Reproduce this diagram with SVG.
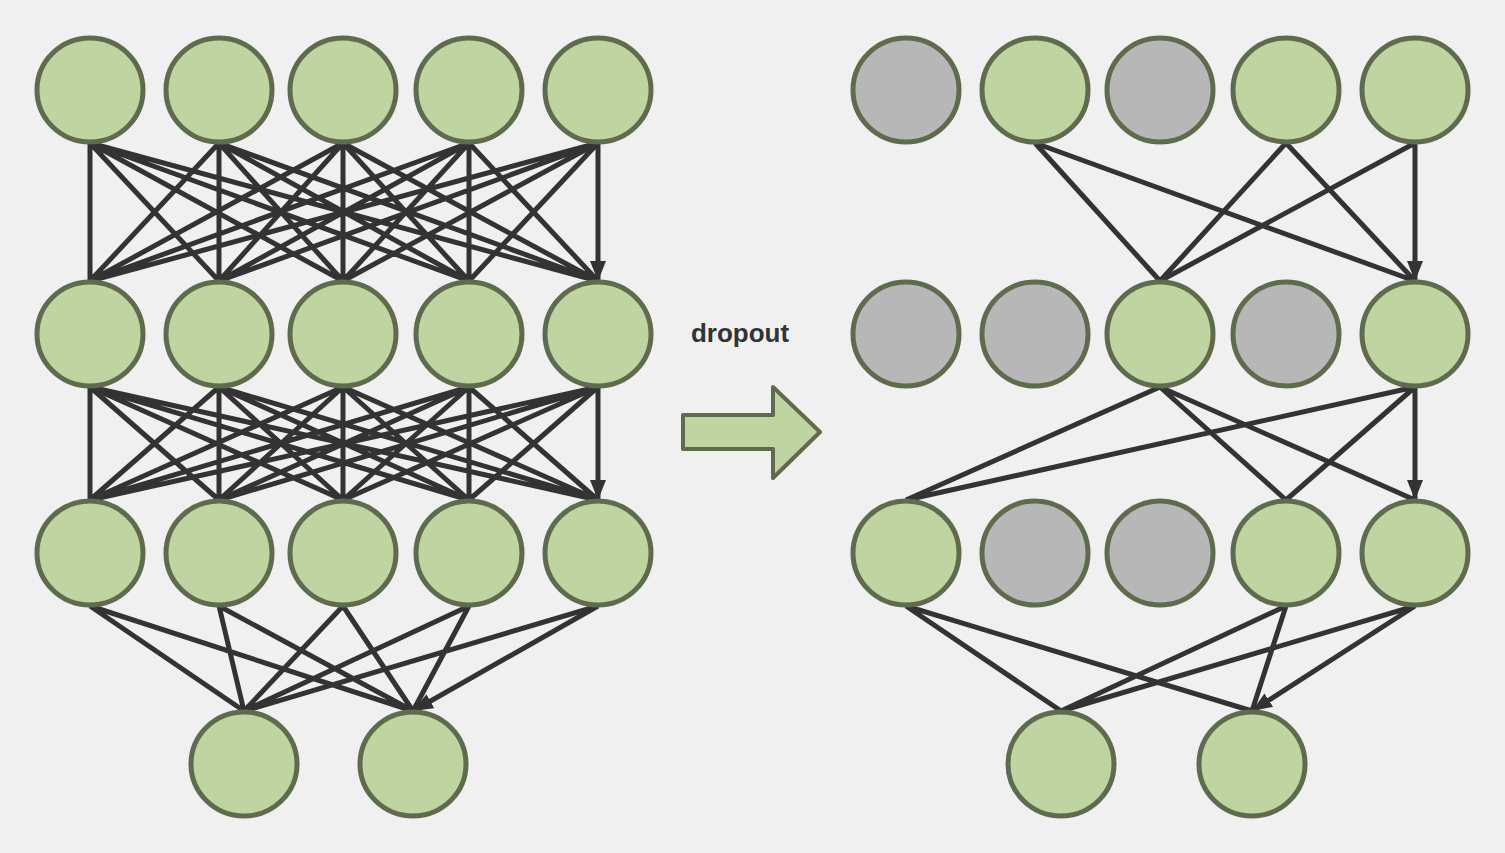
<svg xmlns="http://www.w3.org/2000/svg" width="1505" height="853" viewBox="0 0 1505 853">
<style>
.n{fill:#c0d4a2;stroke:#5f6b4e;stroke-width:5}
.g{fill:#b7b7b7;stroke:#5f6b4e;stroke-width:5}
.e{stroke:#333;stroke-width:5;fill:none;marker-end:url(#a)}
</style>
<defs><marker id="a" markerUnits="userSpaceOnUse" markerWidth="20" markerHeight="16" refX="20" refY="8" orient="auto"><path d="M0,0L20,8L0,16z" fill="#333"/></marker></defs>
<rect width="1505" height="853" fill="#f0f0f0"/>
<g id="edges">
<path class="e" d="M90,143L90,281M90,143L219,281M90,143L343,281M90,143L469,281M90,143L598,281M219,143L90,281M219,143L219,281M219,143L343,281M219,143L469,281M219,143L598,281M343,143L90,281M343,143L219,281M343,143L343,281M343,143L469,281M343,143L598,281M469,143L90,281M469,143L219,281M469,143L343,281M469,143L469,281M469,143L598,281M598,143L90,281M598,143L219,281M598,143L343,281M598,143L469,281M598,143L598,281"/>
<path class="e" d="M90,387L90,500M90,387L219,500M90,387L343,500M90,387L469,500M90,387L598,500M219,387L90,500M219,387L219,500M219,387L343,500M219,387L469,500M219,387L598,500M343,387L90,500M343,387L219,500M343,387L343,500M343,387L469,500M343,387L598,500M469,387L90,500M469,387L219,500M469,387L343,500M469,387L469,500M469,387L598,500M598,387L90,500M598,387L219,500M598,387L343,500M598,387L469,500M598,387L598,500"/>
<path class="e" d="M90,606L244,711M90,606L413,711M219,606L244,711M219,606L413,711M343,606L244,711M343,606L413,711M469,606L244,711M469,606L413,711M598,606L244,711M598,606L413,711"/>
<path class="e" d="M1035,143L1160,281M1035,143L1415,281M1286,143L1160,281M1286,143L1415,281M1415,143L1160,281M1415,128L1415,281"/>
<path class="e" d="M1160,387L906,500M1160,387L1286,500M1160,387L1415,500M1415,387L906,500M1415,387L1286,500M1415,387L1415,500"/>
<path class="e" d="M906,606L1061,711M906,606L1252,711M1286,606L1061,711M1286,606L1252,711M1415,606L1061,711M1415,606L1252,711"/>
</g>
<g id="L1"><ellipse class="n" cx="90" cy="90" rx="53" ry="52"/><ellipse class="n" cx="219" cy="90" rx="53" ry="52"/><ellipse class="n" cx="343" cy="90" rx="53" ry="52"/><ellipse class="n" cx="469" cy="90" rx="53" ry="52"/><ellipse class="n" cx="598" cy="90" rx="53" ry="52"/></g>
<g id="L2"><ellipse class="n" cx="90" cy="334" rx="53" ry="52"/><ellipse class="n" cx="219" cy="334" rx="53" ry="52"/><ellipse class="n" cx="343" cy="334" rx="53" ry="52"/><ellipse class="n" cx="469" cy="334" rx="53" ry="52"/><ellipse class="n" cx="598" cy="334" rx="53" ry="52"/></g>
<g id="L3"><ellipse class="n" cx="90" cy="553" rx="53" ry="52"/><ellipse class="n" cx="219" cy="553" rx="53" ry="52"/><ellipse class="n" cx="343" cy="553" rx="53" ry="52"/><ellipse class="n" cx="469" cy="553" rx="53" ry="52"/><ellipse class="n" cx="598" cy="553" rx="53" ry="52"/></g>
<g id="L4"><ellipse class="n" cx="244" cy="764" rx="53" ry="52"/><ellipse class="n" cx="413" cy="764" rx="53" ry="52"/></g>
<g id="R1"><ellipse class="g" cx="906" cy="90" rx="53" ry="52"/><ellipse class="n" cx="1035" cy="90" rx="53" ry="52"/><ellipse class="g" cx="1160" cy="90" rx="53" ry="52"/><ellipse class="n" cx="1286" cy="90" rx="53" ry="52"/><ellipse class="n" cx="1415" cy="90" rx="53" ry="52"/></g>
<g id="R2"><ellipse class="g" cx="906" cy="334" rx="53" ry="52"/><ellipse class="g" cx="1035" cy="334" rx="53" ry="52"/><ellipse class="n" cx="1160" cy="334" rx="53" ry="52"/><ellipse class="g" cx="1286" cy="334" rx="53" ry="52"/><ellipse class="n" cx="1415" cy="334" rx="53" ry="52"/></g>
<g id="R3"><ellipse class="n" cx="906" cy="553" rx="53" ry="52"/><ellipse class="g" cx="1035" cy="553" rx="53" ry="52"/><ellipse class="g" cx="1160" cy="553" rx="53" ry="52"/><ellipse class="n" cx="1286" cy="553" rx="53" ry="52"/><ellipse class="n" cx="1415" cy="553" rx="53" ry="52"/></g>
<g id="R4"><ellipse class="n" cx="1061" cy="764" rx="53" ry="52"/><ellipse class="n" cx="1252" cy="764" rx="53" ry="52"/></g>
<g id="bigarrow"><polygon points="683,415 773,415 773,387 820,432 773,478 773,449 683,449" fill="#c0d4a2" stroke="#5f6b4e" stroke-width="4" stroke-linejoin="round"/></g>
<text x="740" y="342" text-anchor="middle" font-family="Liberation Sans, Arial, sans-serif" font-weight="bold" font-size="26" fill="#333">dropout</text>
</svg>
